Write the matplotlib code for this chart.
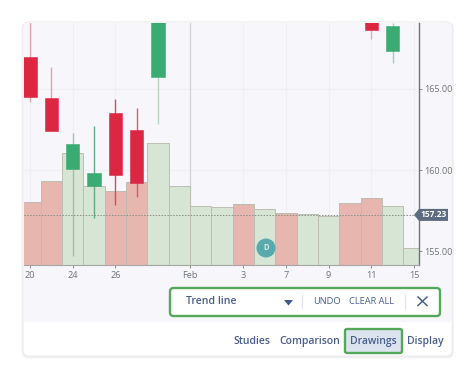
import matplotlib
matplotlib.use("Agg")
import matplotlib.pyplot as plt
from matplotlib.patches import FancyBboxPatch, Circle, Polygon, Rectangle

plt.rcParams['font.family'] = ['Open Sans', 'DejaVu Sans']

# ---- data ----
positions = list(range(19))
volume = [25.9, 34.6, 46.2, 32.5, 30.4, 34.2, 50.3, 32.5, 24.2, 23.8,
          25.1, 23.0, 21.3, 20.9, 20.1, 25.5, 27.5, 24.2, 6.8]
volume_up = [0, 0, 1, 1, 0, 0, 1, 1, 1, 1, 0, 1, 0, 1, 1, 0, 0, 1, 1]

candle_pos = [0, 1, 2, 3, 4, 5, 6, 16, 17]
body_top = [166.96, 164.44, 161.60, 159.81, 163.52, 162.47, 170.0, 170.0, 168.89]
body_bot = [164.51, 162.41, 160.06, 159.01, 159.69, 159.20, 165.74, 168.64, 167.35]
wick_high = [170.0, 166.36, 162.28, 162.72, 164.38, 163.83, 170.0, 170.0, 169.05]
wick_low = [164.20, 162.41, 154.69, 157.04, 157.84, 158.33, 162.84, 168.09, 166.60]
candle_up = [0, 0, 1, 1, 0, 0, 1, 0, 1]

x_ticks = [0, 2, 4, 7.5, 10, 12, 14, 16, 18]
x_labels = ['20', '24', '26', 'Feb', '3', '7', '9', '11', '15']
y_ticks = [155, 160, 165]
y_labels = ['155.00', '160.00', '165.00']
last_price = 157.23

# ---- colours ----
RED, GREEN = '#dc2743', '#3aab72'
RED_V, GREEN_V = '#e6b6af', '#d6e5d4'
WICK_R = ['#e8a5ae', '#e3a0a8', '', '', '#dc4a60', '#dc5a6c', '', '#e6b0b6', '']
WICK_G = ['', '', '#9cc4ab', '#5fae84', '', '', '#b6d4c2', '', '#a5cdb5']
TEXT = '#4a5f8c'
BORDER = '#55a75a'
W, H = 474, 379

fig = plt.figure(figsize=(W / 100, H / 100), dpi=100, facecolor='white')

# page furniture in pixel space
bg = fig.add_axes([0, 0, 1, 1], zorder=0)
bg.set_xlim(0, W)
bg.set_ylim(H, 0)
bg.axis('off')
bg.add_patch(FancyBboxPatch((22.5, 22.5), 430.5, 335, boxstyle='round,pad=0,rounding_size=6',
                            fc='#ececec', ec='#f0f0f0', lw=1.2))
bg.add_patch(FancyBboxPatch((23, 22), 429, 334, boxstyle='round,pad=0,rounding_size=6',
                            fc='white', ec='#eeeeee', lw=0.8))
bg.add_patch(Rectangle((24, 23), 427, 299, fc='#f7f7fb', ec='none'))

# chart axes
L, R, T, B = 24, 419, 23, 264.5
rect = [L / W, 1 - B / H, (R - L) / W, (B - T) / H]
ax = fig.add_axes(rect, zorder=2)
ax.set_facecolor('none')
ax.set_xlim(-0.28, 18.24)
ax.set_ylim(154.17, 169.07)
vol = ax.twinx()
vol.set_ylim(0, 100)
vol.set_zorder(1)
vol.set_facecolor('none')
vol.set_yticks([])
ax.set_zorder(2)

for v in x_ticks:
    vol.axvline(v, color='#eeeef3', lw=0.8, zorder=0)
for v in y_ticks:
    vol.axhline((v - 154.17) / (169.07 - 154.17) * 100, color='#efeff4', lw=0.8, zorder=0)
vol.axvline(7.5, color='#d4d4d8', lw=0.9, zorder=0)

vol.bar(positions, volume, width=1.0,
        color=[GREEN_V if u else RED_V for u in volume_up],
        edgecolor='#bcbeb2', linewidth=0.7, zorder=1)

# candles
for i, p in enumerate(candle_pos):
    col = GREEN if candle_up[i] else RED
    wick = WICK_G[i] if candle_up[i] else WICK_R[i]
    ax.vlines(p, wick_low[i], wick_high[i], color=wick, lw=1.0, zorder=3)
    ax.bar(p, body_top[i] - body_bot[i], bottom=body_bot[i], width=0.63,
           color=col, edgecolor=col, linewidth=0.4, zorder=4)

ax.axhline(last_price, color='#8a8f86', lw=0.7, ls=(0, (1.5, 1.5)), zorder=5)

for s in ['top', 'left']:
    ax.spines[s].set_visible(False)
    vol.spines[s].set_visible(False)
ax.spines['bottom'].set_color('#a5a5a8')
ax.spines['bottom'].set_linewidth(0.8)
ax.spines['right'].set_color('#6f7277')
ax.spines['right'].set_linewidth(1.0)
vol.spines['bottom'].set_visible(False)
vol.spines['right'].set_visible(False)

ax.yaxis.tick_right()
ax.set_yticks(y_ticks, y_labels)
ax.set_xticks(x_ticks, x_labels)
ax.tick_params(axis='x', length=2.5, width=0.7, color='#8a8a8a', labelcolor='#6f7378',
               labelsize=6.6, pad=2.5)
ax.tick_params(axis='y', length=2, width=0.7, color='#8a8a8a', labelcolor='#6f7378',
               labelsize=6.5, pad=1.5)

# overlays in pixel space
fg = fig.add_axes([0, 0, 1, 1], zorder=5)
fg.set_xlim(0, W)
fg.set_ylim(H, 0)
fg.axis('off')
fg.patch.set_alpha(0)

y_tag = T + (169.07 - last_price) / (169.07 - 154.17) * (B - T)
fg.add_patch(Polygon([(414, y_tag), (419, y_tag - 6), (448, y_tag - 6), (448, y_tag + 6),
                      (419, y_tag + 6)], closed=True, fc='#5c6b80', ec='none'))
fg.text(433.5, y_tag, '157.23', color='white', fontsize=6.0, fontweight='bold',
        ha='center', va='center')

fg.add_patch(Circle((266, 248), 9.5, fc='#5aa9ae', ec='none'))
fg.text(266, 248, 'D', color='#d5eaea', fontsize=5.5, fontweight='bold', ha='center', va='center')

fg.add_patch(FancyBboxPatch((170, 288), 270, 28, boxstyle='round,pad=0,rounding_size=3.5',
                            fc='white', ec=BORDER, lw=1.7))
fg.text(186, 301.5, 'Trend line', color=TEXT, fontsize=7.6, fontweight='semibold', ha='left', va='center')
fg.add_patch(Polygon([(284, 300), (293, 300), (288.5, 305.5)], closed=True, fc='#3f5a8a', ec='none'))
fg.plot([302.5, 302.5], [295, 308], color='#e2e4ea', lw=0.9)
fg.text(326.5, 301, 'UNDO', color=TEXT, fontsize=6.7, ha='center', va='center')
fg.text(371.5, 301, 'CLEAR ALL', color=TEXT, fontsize=6.7, ha='center', va='center')
fg.plot([405.5, 405.5], [295, 308], color='#e2e4ea', lw=0.9)
fg.plot([418, 427], [297, 305.5], color=TEXT, lw=1.1)
fg.plot([418, 427], [305.5, 297], color=TEXT, lw=1.1)

fg.text(251.5, 341.5, 'Studies', color=TEXT, fontsize=7.5, fontweight='semibold', ha='center', va='center')
fg.text(310, 341.5, 'Comparison', color=TEXT, fontsize=7.5, fontweight='semibold', ha='center', va='center')
fg.add_patch(FancyBboxPatch((345, 329), 57, 24, boxstyle='round,pad=0,rounding_size=2',
                            fc='#dbe3ef', ec=BORDER, lw=1.7))
fg.text(373.5, 341.5, 'Drawings', color=TEXT, fontsize=7.5, fontweight='semibold', ha='center', va='center')
fg.text(425.5, 341.5, 'Display', color=TEXT, fontsize=7.5, fontweight='semibold', ha='center', va='center')

fig.savefig('out.png', dpi=100, facecolor='white')
